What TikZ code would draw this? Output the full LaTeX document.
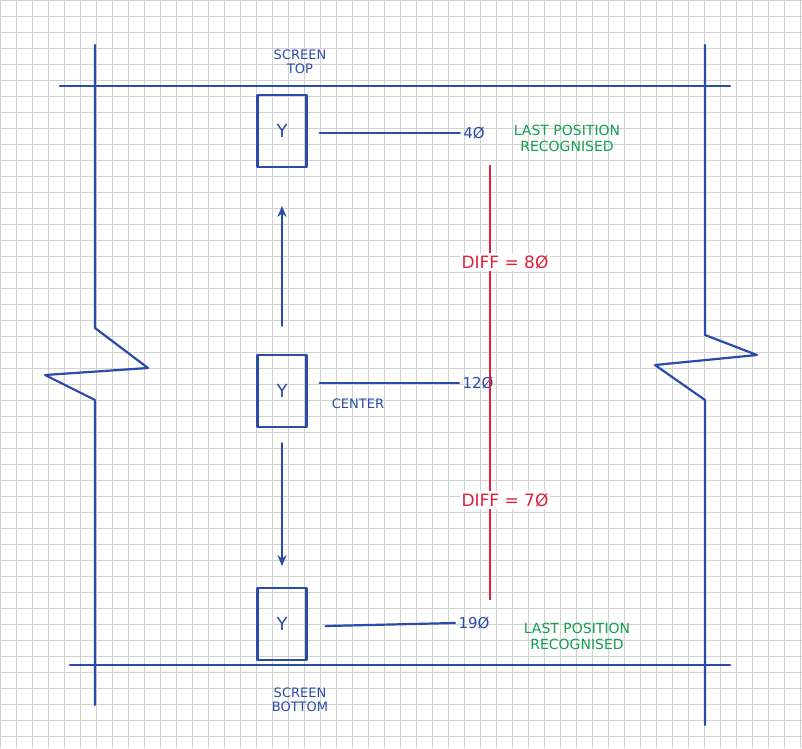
\documentclass[tikz,border=0pt]{standalone}
\usepackage{fontspec}
\setmainfont{DejaVu Sans}
\usetikzlibrary{arrows.meta}
\definecolor{pen}{HTML}{2A4CA8}
\definecolor{redpen}{HTML}{E2203C}
\definecolor{greenpen}{HTML}{12A050}
\tikzset{
 ink/.style={draw=pen,line width=2.2pt,line join=round,line cap=round},
 ybox/.style={ink,minimum width=49pt,minimum height=72pt,inner sep=0pt,text=pen,font=\fontsize{18}{18}\selectfont},
 lab/.style={text=pen,font=\fontsize{13}{14}\selectfont,align=center},
 num/.style={text=pen,font=\fontsize{15}{15}\selectfont},
 glab/.style={text=greenpen,font=\fontsize{14}{16}\selectfont,align=center},
 rlab/.style={text=redpen,font=\fontsize{17}{17}\selectfont,fill=white,inner sep=2pt},
}
\begin{document}
\begin{tikzpicture}[x=1pt,y=-1pt]
\fill[white] (0,0) rectangle (802,748);
\useasboundingbox (0,0) rectangle (802,748);
\foreach \i in {0,16,...,800} \draw[black!18,line width=0.5pt] (\i,0) -- (\i,748);
\foreach \i in {0,16,...,740} \draw[black!18,line width=0.5pt] (0,\i) -- (802,\i);
% frame
\draw[ink] (60,86) -- (730,86);
\draw[ink] (70,665) -- (730,665);
\draw[ink] (95,45) -- (95,328) -- (148,368) -- (45,375) -- (95,400) -- (95,705);
\draw[ink] (705,45) -- (705,335) -- (757,355) -- (655,365) -- (705,400) -- (705,725);
% boxes
\node[ybox] (top) at (282,131) {Y};
\node[ybox] (cen) at (282,391) {Y};
\node[ybox] (bot) at (282,624) {Y};
% numbers
\node[num] (n40) at (474,133) {4Ø};
\node[num] (n120) at (478,383) {12Ø};
\node[num] (n190) at (474,623) {19Ø};
\draw[ink] (top.east) ++(12,2) -- (n40.west);
\draw[ink] (cen.east) ++(12,-8) -- (n120.west);
\draw[ink] (bot.east) ++(18,2) -- (n190.west);
% arrows
\draw[ink,-{Stealth[length=11pt,width=9pt]}] (cen.north) ++(0,-28) -- ++(0,-120);
\draw[ink,-{Stealth[length=11pt,width=9pt]}] (cen.south) ++(0,15) -- ++(0,123);
% red
\draw[redpen,line width=2.2pt] (490,165) -- (490,600);
\node[rlab] (d8) at (505,262) {DIFF = 8Ø};
\node[rlab] (d7) at (505,500) {DIFF = 7Ø};
% texts
\node[glab] (g1) at (567,138) {LAST POSITION\\RECOGNISED};
\node[glab] (g2) at (577,636) {LAST POSITION\\RECOGNISED};
\node[lab] (st) at (300,62) {SCREEN\\TOP};
\node[lab] (sb) at (300,700) {SCREEN\\BOTTOM};
\node[lab] (ce) at (358,404) {CENTER};
\end{tikzpicture}
\end{document}
